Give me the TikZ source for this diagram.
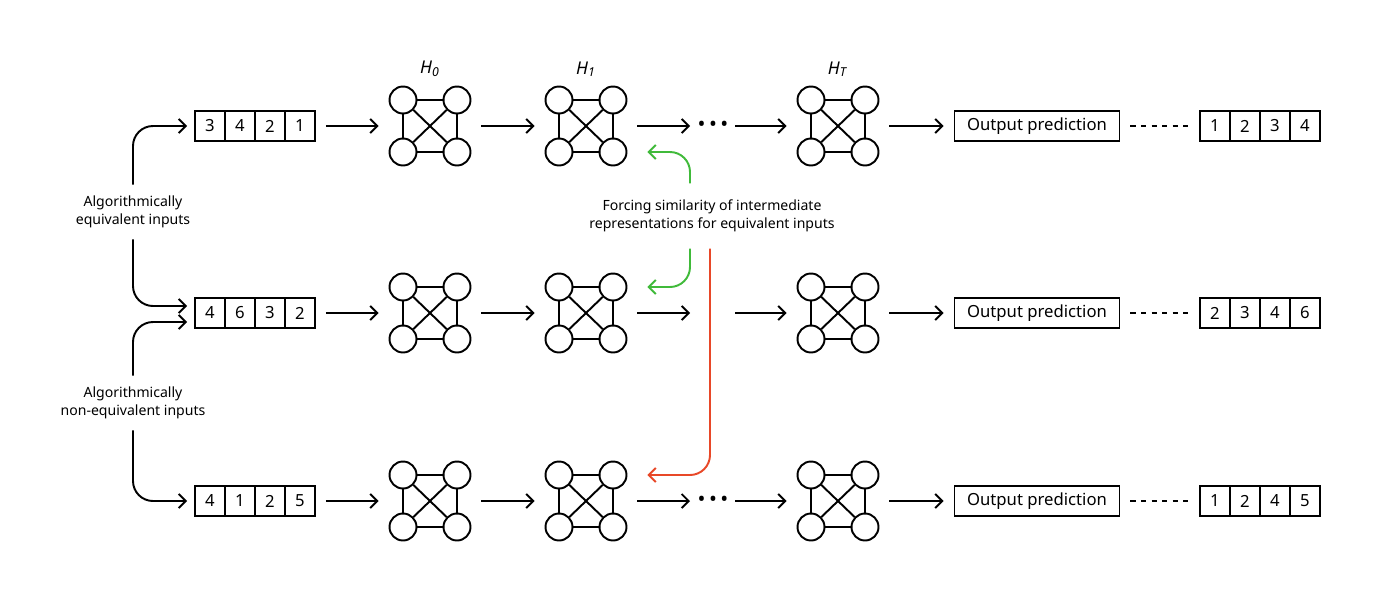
\documentclass[tikz,border=0pt]{standalone}
\usepackage{fontspec}
\setmainfont{Noto Sans}
\usetikzlibrary{calc,arrows.meta,positioning}

\definecolor{fgreen}{RGB}{64,186,58}
\definecolor{fred}{RGB}{232,72,40}

\begin{document}
\begin{tikzpicture}
[x=0.02cm, y=-0.02cm, line width=1.1pt,
cell/.style={rectangle, draw, minimum width=0.6cm, minimum height=0.6cm, inner sep=0pt, font=\fontsize{9.5}{11}\selectfont},
vert/.style={circle, draw, minimum size=0.54cm, inner sep=0pt},
lbl/.style={align=center, font=\fontsize{8}{10}\selectfont, inner ysep=6pt},
outp/.style={rectangle, draw, minimum width=3.3cm, minimum height=0.6cm, font=\fontsize{9.5}{11}\selectfont},
arr/.style={-{Straight Barb[length=4pt, width=8pt]}, shorten <=0.2cm, shorten >=0.2cm},
graph/.pic={
	\node[vert] (-a) at (-27,-26) {};
	\node[vert] (-b) at (27,-26) {};
	\node[vert] (-c) at (-27,26) {};
	\node[vert] (-d) at (27,26) {};
	\draw (-a) -- (-b) -- (-d) -- (-c) -- (-a);
	\draw (-a) -- (-d);
	\draw (-b) -- (-c);
	\node[minimum width=1.62cm, minimum height=1.58cm, inner sep=0pt] (-box) at (0,0) {};
}]

	\useasboundingbox (0,0) rectangle (1380,589);

	% three rows of inputs, graphs and outputs
	\foreach \r/\y/\inp/\res in {0/126/{3,4,2,1}/{1,2,3,4}, 1/313/{4,6,3,2}/{2,3,4,6}, 2/501/{4,1,2,5}/{1,2,4,5}}{
		\foreach \v [count=\i] in \inp
			\node[cell] (in\r-\i) at (180+30*\i,\y) {\v};
		\foreach \v [count=\i] in \res
			\node[cell] (res\r-\i) at (1185+30*\i,\y) {\v};
		\pic (g\r0) at (430,\y) {graph};
		\pic (g\r1) at (586,\y) {graph};
		\pic (g\r2) at (838,\y) {graph};
		\coordinate (gapa\r) at (690,\y);
		\coordinate (gapb\r) at (735,\y);
		\node[outp] (out\r) at (1037,\y) {Output prediction};
		\draw[arr] (in\r-4) -- (g\r0-box);
		\draw[arr] (g\r0-box) -- (g\r1-box);
		\draw[arr, shorten >=0pt] (g\r1-box) -- (gapa\r);
		\draw[arr, shorten <=0pt] (gapb\r) -- (g\r2-box);
		\draw[arr] (g\r2-box) -- (out\r);
		\draw[dashed, shorten <=0.2cm, shorten >=0.2cm, line width=0.9pt] (out\r) -- (res\r-1);
	}

	\node[font=\large] (dots0) at (713,126) {\textbullet\,\textbullet\,\textbullet};
	\node[font=\large] (dots2) at (713,501) {\textbullet\,\textbullet\,\textbullet};

	\node[above=1pt of g00-box] (h0) {\textit{H}\textsubscript{\textit{0}}};
	\node[above=1pt of g01-box] (h1) {\textit{H}\textsubscript{\textit{1}}};
	\node[above=1pt of g02-box] (ht) {\textit{H}\textsubscript{\textit{T}}};

	% input pairs
	\node[lbl] (eq) at (133,212) {Algorithmically\\equivalent inputs};
	\node[lbl] (neq) at (133,403) {Algorithmically\\non-equivalent inputs};
	\draw[arr, shorten <=0pt, shorten >=0.14cm, rounded corners=0.4cm] (eq.north) |- (in0-1.west);
	\draw[arr, shorten <=0pt, shorten >=0.14cm, rounded corners=0.4cm] (eq.south) |- ($(in1-1.west)+(0,-7)$);
	\draw[arr, shorten <=0pt, shorten >=0.14cm, rounded corners=0.4cm] (neq.north) |- ($(in1-1.west)+(0,9)$);
	\draw[arr, shorten <=0pt, shorten >=0.14cm, rounded corners=0.4cm] (neq.south) |- (in2-1.west);

	% similarity forcing
	\node[lbl, inner ysep=9pt] (force) at (712,216) {Forcing similarity of intermediate\\representations for equivalent inputs};
	\draw[arr, fgreen, shorten <=0pt, rounded corners=0.4cm] ($(force.north)+(-22,0)$) |- ($(g01-d.east)+(10,0)$);
	\draw[arr, fgreen, shorten <=0pt, rounded corners=0.4cm] ($(force.south)+(-22,0)$) |- ($(g11-b.east)+(10,0)$);
	\draw[arr, fred, shorten <=0pt, rounded corners=0.4cm] ($(force.south)+(-2,0)$) |- ($(g21-b.east)+(10,0)$);

\end{tikzpicture}
\end{document}
